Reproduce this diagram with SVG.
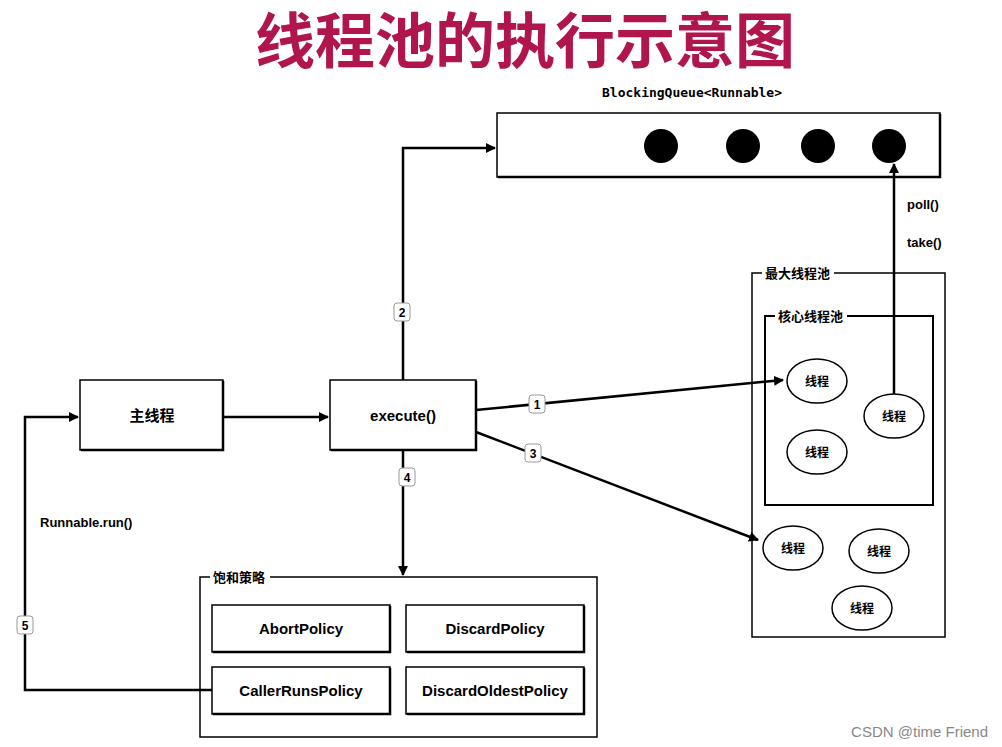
<svg xmlns="http://www.w3.org/2000/svg" width="1002" height="747" viewBox="0 0 1002 747">
<defs>
<marker id="ah" viewBox="0 0 10 10" refX="9" refY="5" markerWidth="10" markerHeight="10" markerUnits="userSpaceOnUse" orient="auto"><path d="M0,0 L10,5 L0,10 z" fill="#000"/></marker>
<style>
text{font-family:"Liberation Sans","Noto Sans CJK SC",sans-serif;fill:#000}
.b{fill:#fff;stroke:#000;stroke-width:1.5}
.sh{fill:none;stroke:#000;stroke-width:2.5}
.c{fill:none;stroke:#000;stroke-width:2.5;marker-end:url(#ah)}
.t{font-size:15px;font-weight:bold;text-anchor:middle}
.l{font-size:13px;font-weight:bold}
.n{fill:#fff;stroke:#999;stroke-width:1}
.nt{font-size:12px;font-weight:bold;text-anchor:middle}
.e{fill:#fff;stroke:#000;stroke-width:1.5}
</style>
</defs>
<rect width="1002" height="747" fill="#fff"/>
<text x="525" y="63" font-size="60" font-weight="bold" text-anchor="middle" style="fill:#b0154d">线程池的执行示意图</text>
<g id="queue">
<text x="602" y="97" class="l" style="font-family:'DejaVu Sans Mono',monospace">BlockingQueue&lt;Runnable&gt;</text>
<rect x="497" y="113" width="443" height="64" class="b"/>
<path d="M498,177 H940 V114" class="sh"/>
<circle cx="661" cy="146" r="17"/><circle cx="743" cy="146" r="17"/><circle cx="818" cy="146" r="17"/><circle cx="889" cy="146" r="17"/>
</g>
<g id="main">
<rect x="80" y="380" width="143" height="70" class="b"/><path d="M81,450 H223 V381" class="sh"/>
<text x="152" y="421" class="t">主线程</text>
</g>
<g id="execute">
<rect x="330" y="380" width="146" height="70" class="b"/><path d="M331,450 H476 V381" class="sh"/>
<text x="403" y="421" class="t">execute()</text>
</g>
<g id="maxpool">
<rect x="752" y="273" width="193" height="364" fill="none" stroke="#000" stroke-width="1.5"/>
<rect x="762" y="265" width="72" height="16" fill="#fff"/>
<text x="765" y="278" class="l">最大线程池</text>
</g>
<g id="corepool">
<rect x="765" y="316" width="168" height="189" fill="none" stroke="#000" stroke-width="2"/>
<rect x="775" y="308" width="72" height="16" fill="#fff"/>
<text x="778" y="321" class="l">核心线程池</text>
</g>
<g id="threads">
<ellipse cx="817" cy="381" rx="30" ry="22" class="e"/><text x="817" y="386" class="nt">线程</text>
<ellipse cx="894" cy="416" rx="30" ry="22" class="e"/><text x="894" y="421" class="nt">线程</text>
<ellipse cx="817" cy="452" rx="30" ry="22" class="e"/><text x="817" y="457" class="nt">线程</text>
<ellipse cx="793" cy="548" rx="30" ry="22" class="e"/><text x="793" y="553" class="nt">线程</text>
<ellipse cx="879" cy="551" rx="30" ry="22" class="e"/><text x="879" y="556" class="nt">线程</text>
<ellipse cx="862" cy="608" rx="30" ry="22" class="e"/><text x="862" y="613" class="nt">线程</text>
</g>
<g id="saturation">
<rect x="200" y="577" width="397" height="160" fill="none" stroke="#000" stroke-width="1.5"/>
<rect x="210" y="569" width="60" height="16" fill="#fff"/>
<text x="213" y="582" class="l">饱和策略</text>
<rect x="212" y="605" width="178" height="47" class="b"/><path d="M213,652 H390 V606" class="sh"/><text x="301" y="634" class="t">AbortPolicy</text>
<rect x="406" y="605" width="178" height="47" class="b"/><path d="M407,652 H584 V606" class="sh"/><text x="495" y="634" class="t">DiscardPolicy</text>
<rect x="212" y="667" width="178" height="47" class="b"/><path d="M213,714 H390 V668" class="sh"/><text x="301" y="696" class="t">CallerRunsPolicy</text>
<rect x="406" y="667" width="178" height="47" class="b"/><path d="M407,714 H584 V668" class="sh"/><text x="495" y="696" class="t">DiscardOldestPolicy</text>
</g>
<g id="connectors">
<path d="M223,417 H328" class="c"/>
<path d="M403,380 V148 H495" class="c"/>
<path d="M403,450 V575" class="c"/>
<path d="M476,410 L783,380" class="c"/>
<path d="M476,432 L758,540" class="c"/>
<path d="M894,394 V164" class="c"/>
<path d="M212,690 H25 V417 H78" class="c"/>
<rect x="394" y="303" width="16" height="18" rx="3" class="n"/><text x="402" y="317" class="nt">2</text>
<rect x="399" y="468" width="16" height="18" rx="3" class="n"/><text x="407" y="482" class="nt">4</text>
<rect x="529" y="395" width="16" height="18" rx="3" class="n"/><text x="537" y="409" class="nt">1</text>
<rect x="525" y="444" width="16" height="18" rx="3" class="n"/><text x="533" y="458" class="nt">3</text>
<rect x="17" y="616" width="16" height="18" rx="3" class="n"/><text x="25" y="630" class="nt">5</text>
<text x="907" y="209" class="l">poll()</text>
<text x="907" y="247" class="l">take()</text>
<text x="40" y="527" class="l">Runnable.run()</text>
</g>
<text x="988" y="737" font-size="15" text-anchor="end" style="fill:#888">CSDN @time Friend</text>
</svg>
